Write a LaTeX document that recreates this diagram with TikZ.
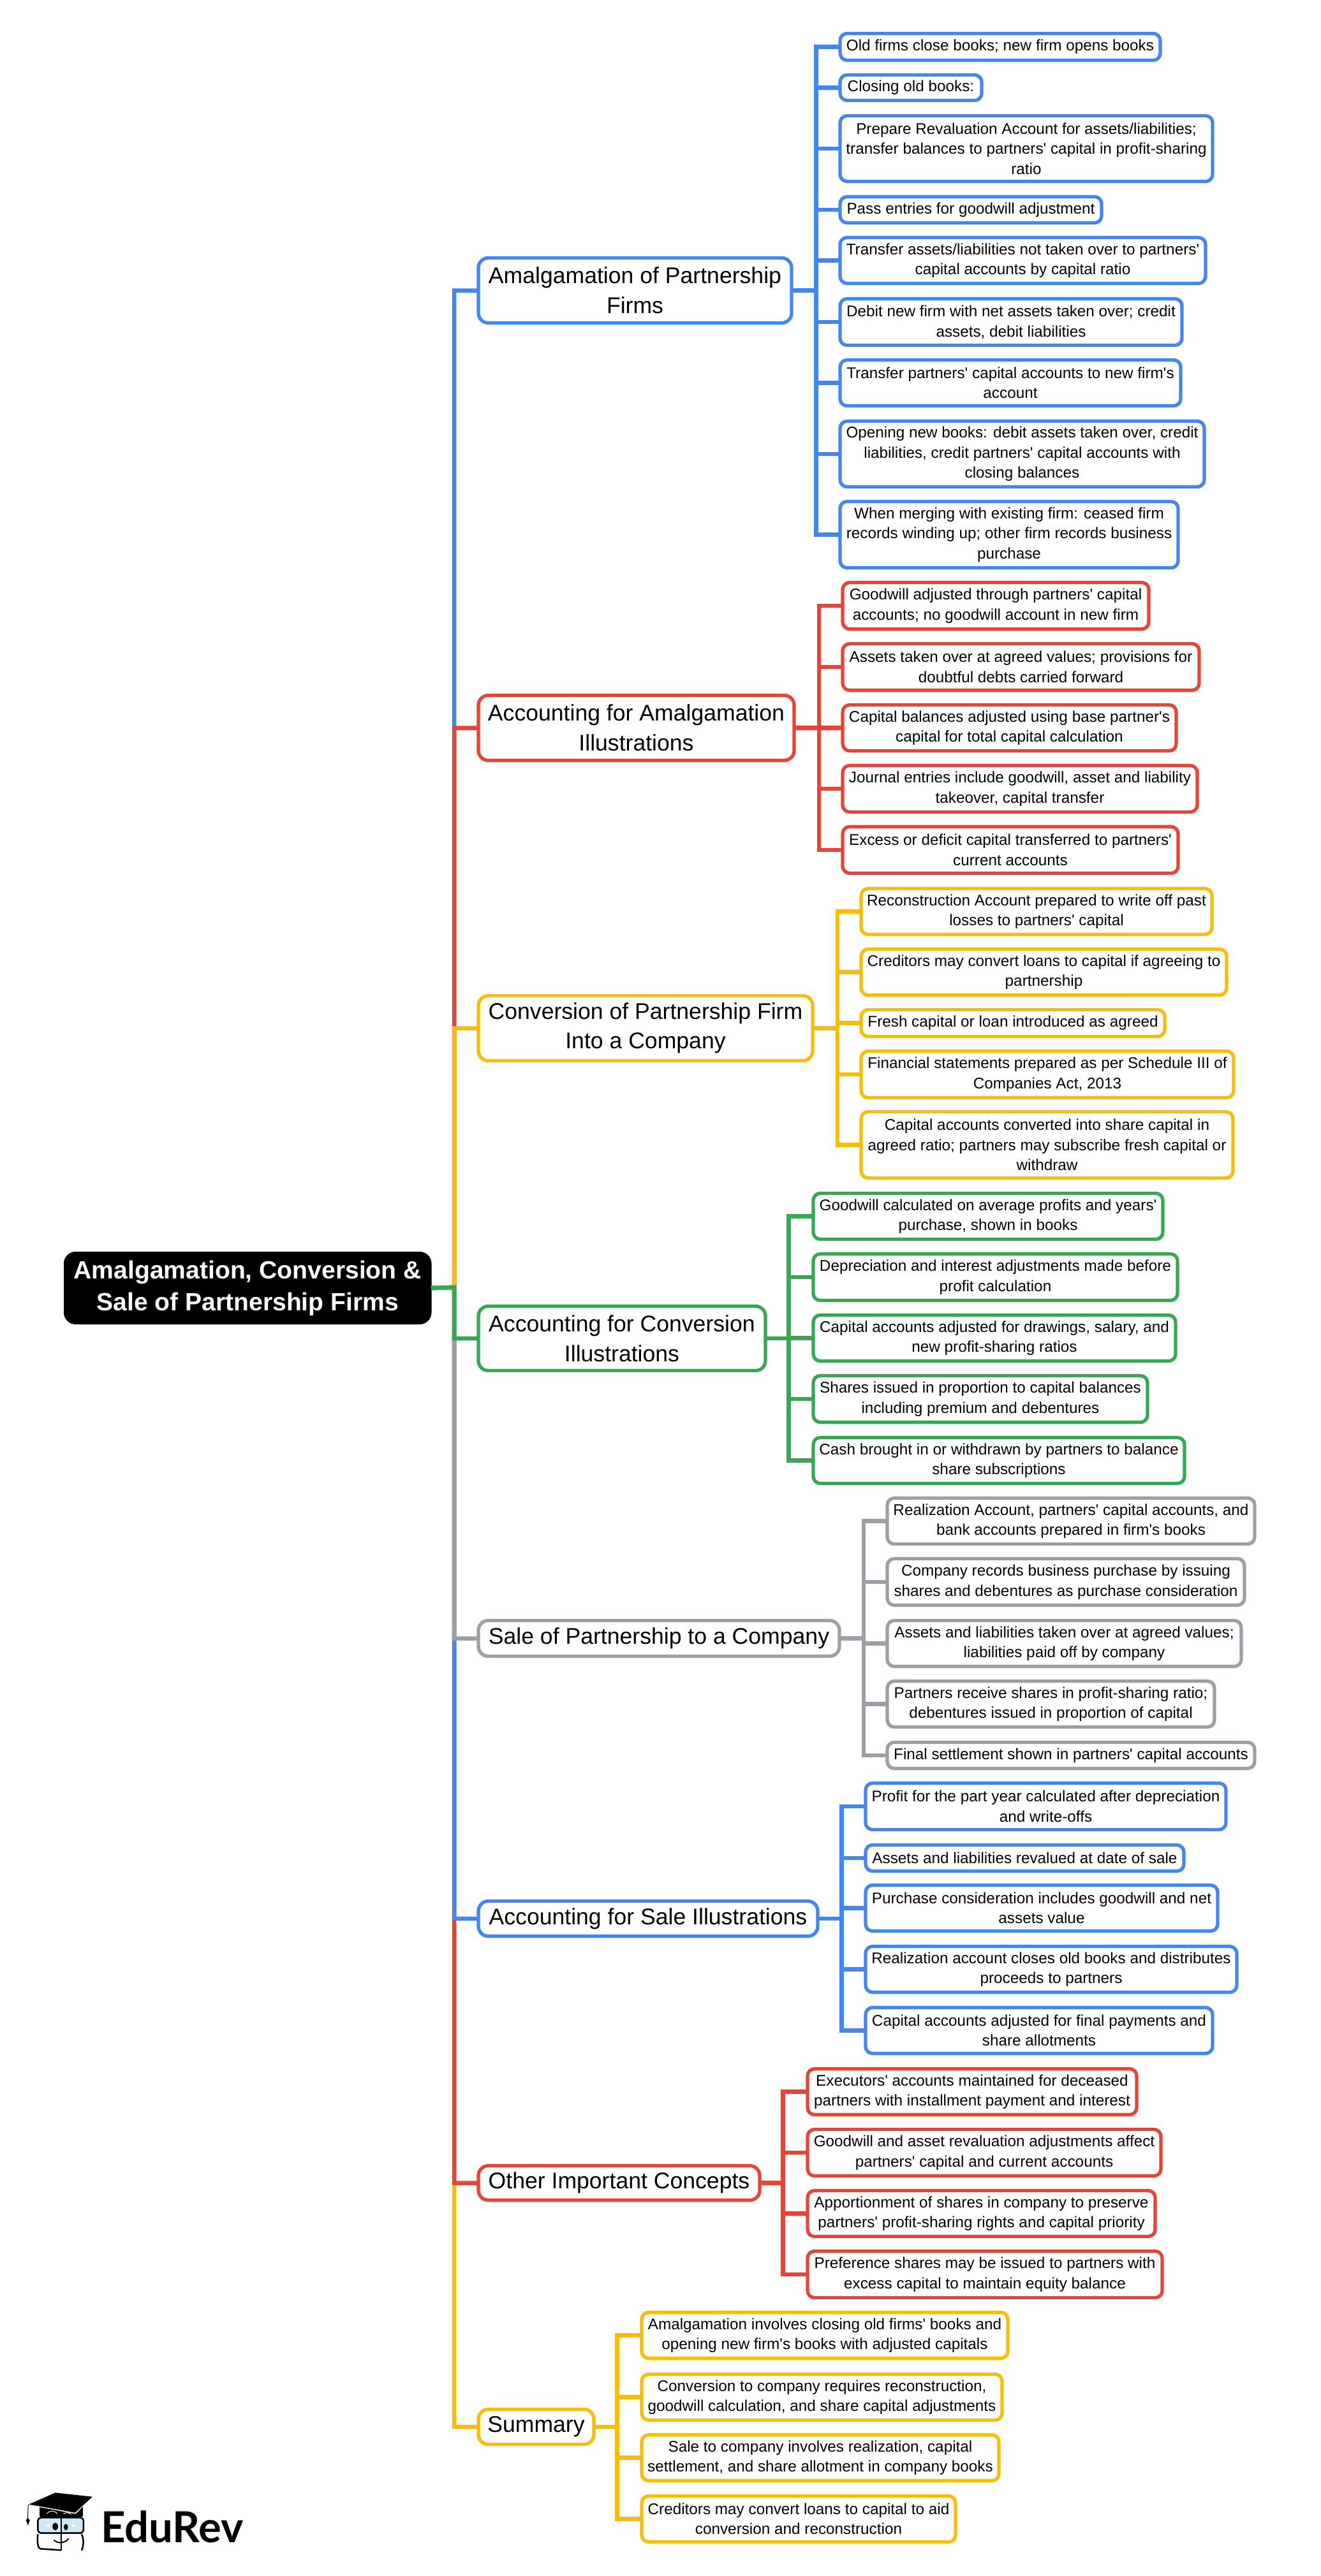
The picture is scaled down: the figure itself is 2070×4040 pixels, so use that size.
\documentclass[tikz,border=0pt]{standalone}
\usepackage{fontspec}
\newfontfamily\mapfont{Liberation Sans}
\newfontfamily\logofont{Lato}
\definecolor{cblue}{HTML}{4285F4}
\definecolor{cred}{HTML}{EA4335}
\definecolor{cyellow}{HTML}{FBBC04}
\definecolor{cgreen}{HTML}{34A853}
\definecolor{cgray}{HTML}{9AA0A6}
\definecolor{glass}{HTML}{CFE8F7}
\tikzset{
  basebox/.style={rounded corners=#1,fill=white,align=center,inner sep=0pt,outer sep=0pt,text=black},
  leafbox/.style={basebox=11pt,draw=#1,line width=5.3pt,font=\mapfont\fontsize{24.3}{31.5}\selectfont},
  branchbox/.style={basebox=15.5pt,draw=#1,line width=5.3pt,font=\mapfont\fontsize{35.6}{46.5}\selectfont},
  rootbox/.style={rounded corners=18pt,fill=black,draw=black,line width=1pt,align=center,inner sep=0pt,outer sep=0pt,text=white,font=\mapfont\bfseries\fontsize{39.1}{50}\selectfont},
  conn/.style={draw=#1,line width=6.5pt,line join=miter},
}
\newcommand{\boxat}[7]{\node[#1,minimum width={#5-#3},minimum height={#6-#4-3}] (#2) at ({(#3+#5)/2},{(#4+#6)/2}) {#7};}
\begin{document}
\begin{tikzpicture}[x=1pt,y=-1pt]
\useasboundingbox (0,0) rectangle (2070,4040);
% root
\boxat{rootbox}{root}{100.5}{1962}{676}{2078}{Amalgamation, Conversion \&\\Sale of Partnership Firms}
% branches
\boxat{branchbox=cblue}{bA}{750}{403}{1241}{508}{Amalgamation of Partnership\\Firms}
\boxat{branchbox=cred}{bB}{750}{1089}{1245}{1194}{Accounting for Amalgamation\\Illustrations}
\boxat{branchbox=cyellow}{bC}{750}{1560}{1274}{1665}{Conversion of Partnership Firm\\Into a Company}
\boxat{branchbox=cgreen}{bD}{750}{2047}{1200}{2151}{Accounting for Conversion\\Illustrations}
\boxat{branchbox=cgray}{bE}{750}{2540}{1316}{2599}{Sale of Partnership to a Company}
\boxat{branchbox=cblue}{bF}{750}{2980}{1282}{3038}{Accounting for Sale Illustrations}
\boxat{branchbox=cred}{bG}{750}{3395}{1191}{3452}{Other Important Concepts}
\boxat{branchbox=cyellow}{bH}{750}{3777}{931}{3835}{Summary}
% leaves A
\boxat{leafbox=cblue}{a1}{1317}{51}{1819}{96}{Old firms close books; new firm opens books}
\boxat{leafbox=cblue}{a2}{1317}{116}{1539}{159}{Closing old books:}
\boxat{leafbox=cblue}{a3}{1317}{180}{1901}{286}{Prepare Revaluation Account for assets/liabilities;\\transfer balances to partners' capital in profit-sharing\\ratio}
\boxat{leafbox=cblue}{a4}{1317}{307}{1727}{351}{Pass entries for goodwill adjustment}
\boxat{leafbox=cblue}{a5}{1317}{371}{1890}{446}{Transfer assets/liabilities not taken over to partners'\\capital accounts by capital ratio}
\boxat{leafbox=cblue}{a6}{1317}{467}{1853}{543}{Debit new firm with net assets taken over; credit\\assets, debit liabilities}
\boxat{leafbox=cblue}{a7}{1317}{563}{1851}{638}{Transfer partners' capital accounts to new firm's\\account}
\boxat{leafbox=cblue}{a8}{1317}{659}{1888}{765}{Opening new books: debit assets taken over, credit\\liabilities, credit partners' capital accounts with\\closing balances}
\boxat{leafbox=cblue}{a9}{1317}{785}{1847}{892}{When merging with existing firm: ceased firm\\records winding up; other firm records business\\purchase}
% leaves B
\boxat{leafbox=cred}{b1}{1321}{912}{1801}{988}{Goodwill adjusted through partners' capital\\accounts; no goodwill account in new firm}
\boxat{leafbox=cred}{b2}{1321}{1008}{1880}{1084}{Assets taken over at agreed values; provisions for\\doubtful debts carried forward}
\boxat{leafbox=cred}{b3}{1321}{1104}{1844}{1179}{Capital balances adjusted using base partner's\\capital for total capital calculation}
\boxat{leafbox=cred}{b4}{1321}{1199}{1877}{1275}{Journal entries include goodwill, asset and liability\\takeover, capital transfer}
\boxat{leafbox=cred}{b5}{1321}{1295}{1847}{1371}{Excess or deficit capital transferred to partners'\\current accounts}
% leaves C
\boxat{leafbox=cyellow}{c1}{1350}{1392}{1900}{1467}{Reconstruction Account prepared to write off past\\losses to partners' capital}
\boxat{leafbox=cyellow}{c2}{1350}{1487}{1923}{1562}{Creditors may convert loans to capital if agreeing to\\partnership}
\boxat{leafbox=cyellow}{c3}{1350}{1582}{1826}{1627}{Fresh capital or loan introduced as agreed}
\boxat{leafbox=cyellow}{c4}{1350}{1647}{1934}{1723}{Financial statements prepared as per Schedule III of\\Companies Act, 2013}
\boxat{leafbox=cyellow}{c5}{1350}{1742}{1933}{1849}{Capital accounts converted into share capital in\\agreed ratio; partners may subscribe fresh capital or\\withdraw}
% leaves D
\boxat{leafbox=cgreen}{d1}{1275}{1870}{1823}{1945}{Goodwill calculated on average profits and years'\\purchase, shown in books}
\boxat{leafbox=cgreen}{d2}{1275}{1965}{1846}{2041}{Depreciation and interest adjustments made before\\profit calculation}
\boxat{leafbox=cgreen}{d3}{1275}{2061}{1843}{2136}{Capital accounts adjusted for drawings, salary, and\\new profit-sharing ratios}
\boxat{leafbox=cgreen}{d4}{1275}{2156}{1799}{2232}{Shares issued in proportion to capital balances\\including premium and debentures}
\boxat{leafbox=cgreen}{d5}{1275}{2253}{1857}{2328}{Cash brought in or withdrawn by partners to balance\\share subscriptions}
% leaves E
\boxat{leafbox=cgray}{e1}{1391}{2348}{1967}{2423}{Realization Account, partners' capital accounts, and\\bank accounts prepared in firm's books}
\boxat{leafbox=cgray}{e2}{1391}{2443}{1951}{2519}{Company records business purchase by issuing\\shares and debentures as purchase consideration}
\boxat{leafbox=cgray}{e3}{1391}{2540}{1946}{2615}{Assets and liabilities taken over at agreed values;\\liabilities paid off by company}
\boxat{leafbox=cgray}{e4}{1391}{2635}{1904}{2710}{Partners receive shares in profit-sharing ratio;\\debentures issued in proportion of capital}
\boxat{leafbox=cgray}{e5}{1391}{2731}{1967}{2775}{Final settlement shown in partners' capital accounts}
% leaves F
\boxat{leafbox=cblue}{f1}{1357}{2795}{1922}{2871}{Profit for the part year calculated after depreciation\\and write-offs}
\boxat{leafbox=cblue}{f2}{1357}{2892}{1856}{2936}{Assets and liabilities revalued at date of sale}
\boxat{leafbox=cblue}{f3}{1357}{2955}{1909}{3030}{Purchase consideration includes goodwill and net\\assets value}
\boxat{leafbox=cblue}{f4}{1357}{3051}{1939}{3126}{Realization account closes old books and distributes\\proceeds to partners}
\boxat{leafbox=cblue}{f5}{1357}{3147}{1901}{3222}{Capital accounts adjusted for final payments and\\share allotments}
% leaves G
\boxat{leafbox=cred}{g1}{1266}{3243}{1782}{3318}{Executors' accounts maintained for deceased\\partners with installment payment and interest}
\boxat{leafbox=cred}{g2}{1266}{3338}{1820}{3414}{Goodwill and asset revaluation adjustments affect\\partners' capital and current accounts}
\boxat{leafbox=cred}{g3}{1266}{3434}{1811}{3509}{Apportionment of shares in company to preserve\\partners' profit-sharing rights and capital priority}
\boxat{leafbox=cred}{g4}{1266}{3529}{1822}{3605}{Preference shares may be issued to partners with\\excess capital to maintain equity balance}
% leaves H
\boxat{leafbox=cyellow}{h1}{1006}{3625}{1580}{3700}{Amalgamation involves closing old firms' books and\\opening new firm's books with adjusted capitals}
\boxat{leafbox=cyellow}{h2}{1006}{3722}{1571}{3797}{Conversion to company requires reconstruction,\\goodwill calculation, and share capital adjustments}
\boxat{leafbox=cyellow}{h3}{1006}{3817}{1566}{3892}{Sale to company involves realization, capital\\settlement, and share allotment in company books}
\boxat{leafbox=cyellow}{h4}{1006}{3913}{1498}{3988}{Creditors may convert loans to capital to aid\\conversion and reconstruction}
% trunk
\coordinate (jroot) at (712,2019);
\draw[conn=cblue] (root.east) -- (jroot) |- (bA.west);
\draw[conn=cred] (root.east) -- (jroot) |- (bB.west);
\draw[conn=cyellow] (root.east) -- (jroot) |- (bC.west);
\draw[conn=cyellow] (root.east) -- (jroot) |- (bH.west);
\draw[conn=cred] (root.east) -- (jroot) |- (bG.west);
\draw[conn=cblue] (root.east) -- (jroot) |- (bF.west);
\draw[conn=cgray] (root.east) -- (jroot) |- (bE.west);
\draw[conn=cgreen] (root.east) -- (jroot) |- (bD.west);
% spines
\coordinate (sA) at (1279.5,455.5);
\coordinate (sB) at (1284,1141.5);
\coordinate (sC) at (1313,1612.5);
\coordinate (sD) at (1236.5,2099);
\coordinate (sE) at (1354,2569.5);
\coordinate (sF) at (1319.5,3009);
\coordinate (sG) at (1227.5,3423.5);
\coordinate (sH) at (967.5,3806);
\draw[conn=cblue] (bA.east) -- (sA);
\draw[conn=cred] (bB.east) -- (sB);
\draw[conn=cyellow] (bC.east) -- (sC);
\draw[conn=cgreen] (bD.east) -- (sD);
\draw[conn=cgray] (bE.east) -- (sE);
\draw[conn=cblue] (bF.east) -- (sF);
\draw[conn=cred] (bG.east) -- (sG);
\draw[conn=cyellow] (bH.east) -- (sH);
\foreach \n in {a1,a2,a3,a4,a5,a6,a7,a8,a9} \draw[conn=cblue] (sA) |- (\n.west);
\foreach \n in {b1,b2,b3,b4,b5} \draw[conn=cred] (sB) |- (\n.west);
\foreach \n in {c1,c2,c3,c4,c5} \draw[conn=cyellow] (sC) |- (\n.west);
\foreach \n in {d1,d2,d3,d4,d5} \draw[conn=cgreen] (sD) |- (\n.west);
\foreach \n in {e1,e2,e3,e4,e5} \draw[conn=cgray] (sE) |- (\n.west);
\foreach \n in {f1,f2,f3,f4,f5} \draw[conn=cblue] (sF) |- (\n.west);
\foreach \n in {g1,g2,g3,g4} \draw[conn=cred] (sG) |- (\n.west);
\foreach \n in {h1,h2,h3,h4} \draw[conn=cyellow] (sH) |- (\n.west);
% logo
\node[anchor=base west,inner sep=0pt,font=\logofont\bfseries\fontsize{67}{70}\selectfont] (logotext) at (158,3987) {EduRev};
\begin{scope}[shift={(0,3880)},x=0.3333pt,y=-0.3333pt]
  \fill[black] (185,150) -- (390,150) -- (390,200) -- (185,200) -- cycle;
  \draw[white,line width=1.5pt] (150,147) -- (355,185) -- (390,150);
  \fill[black] (135,143) -- (260,88) -- (435,107) -- (355,180) -- cycle;
  \draw[white,line width=1pt] (220,187) .. controls (235,170) and (255,170) .. (270,187);
  \draw[white,line width=1pt] (298,188) .. controls (310,180) and (325,180) .. (335,190);
  \draw[black,line width=1pt] (133,145) -- (130,210);
  \fill[black] (130,205) -- (122,218) -- (132,242) -- (140,218) -- cycle;
  \draw[black,line width=2.5pt,fill=glass,rounded corners=5pt] (178,205) rectangle (393,278);
  \draw[black,line width=2pt] (288,197) -- (288,360);
  \fill[black] (260,247) ellipse [x radius=13,y radius=18];
  \fill[black] (310,250) ellipse [x radius=10,y radius=15];
  \fill[white] (220,236) rectangle (234,250);
  \fill[white] (340,236) rectangle (354,250);
  \draw[black,line width=2.5pt,line cap=round] (178,285) .. controls (175,310) and (175,345) .. (190,352) -- (285,358);
  \draw[black,line width=2.5pt,line cap=round] (385,285) .. controls (396,310) and (392,340) .. (385,358);
  \draw[black,line width=2pt,line cap=round] (255,312) .. controls (275,330) and (305,325) .. (322,305);
\end{scope}
\end{tikzpicture}
\end{document}
